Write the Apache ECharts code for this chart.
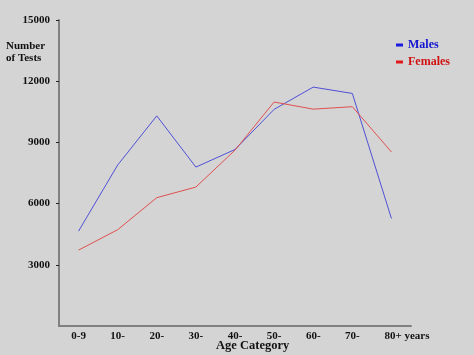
<!DOCTYPE html>
<html>
<head>
<meta charset="utf-8">
<script src="https://cdn.jsdelivr.net/npm/echarts@6/dist/echarts.min.js"></script>
<style>
  html, body { margin: 0; padding: 0; background: #d4d4d4; }
  #chart { width: 474px; height: 355px; }
</style>
</head>
<body>
<div id="chart"></div>
<script>
const ageCategories = ["0-9", "10-", "20-", "30-", "40-", "50-", "60-", "70-", "80+ years"];
const males = [4650, 7890, 10300, 7790, 8650, 10620, 11710, 11400, 5270];
const females = [3720, 4720, 6290, 6810, 8620, 10980, 10630, 10750, 8530];
const yTicks = [3000, 6000, 9000, 12000, 15000];

const font = "Liberation Serif";
const chart = echarts.init(document.getElementById("chart"));

const option = {
    backgroundColor: "#d4d4d4",
    animation: false,
    grid: { left: 59, right: 63, top: 20, bottom: 29 },
    legend: {
        orient: "vertical",
        left: 391,
        top: 34,
        itemWidth: 7,
        itemHeight: 3,
        itemGap: 5,
        icon: "rect",
        textStyle: { fontFamily: font, fontWeight: "bold", fontSize: 12 },
        data: [
            { name: "Males", itemStyle: { color: "#1a1ae0" }, textStyle: { color: "#1212d0" } },
            { name: "Females", itemStyle: { color: "#e01a1a" }, textStyle: { color: "#d01212" } }
        ]
    },
    xAxis: {
        type: "category",
        data: ageCategories.map((c, i) => i === ageCategories.length - 1
            ? { value: c, textStyle: { align: "left", padding: [0, 0, 0, -7] } }
            : c),
        boundaryGap: true,
        axisLine: { lineStyle: { color: "#808080", width: 2 } },
        axisTick: { show: false },
        axisLabel: {
            interval: 0, margin: 5, color: "#111", fontFamily: font, fontWeight: "bold", fontSize: 11
        }
    },
    yAxis: {
        type: "value",
        min: 0,
        max: 15000,
        interval: 3000,
        splitLine: { show: false },
        axisLine: { show: true, lineStyle: { color: "#808080", width: 2 } },
        axisTick: { show: true, length: 3, customValues: yTicks, lineStyle: { color: "#222", width: 1 } },
        axisLabel: {
            margin: 9, color: "#111", fontFamily: font, fontWeight: "bold", fontSize: 11,
            customValues: yTicks,
            formatter: v => String(v)
        }
    },
    graphic: [
        {
            type: "text", left: 6, top: 40,
            style: {
                text: "Number\nof Tests", fill: "#111", lineHeight: 12,
                font: "bold 11px 'Liberation Serif'"
            }
        },
        {
            type: "text", left: 216, top: 339,
            style: { text: "Age Category", fill: "#111", font: "bold 12.5px 'Liberation Serif'" }
        }
    ],
    series: [
        {
            name: "Males", type: "line", data: males, symbol: "none",
            lineStyle: { color: "#5050d8", width: 1 }, itemStyle: { color: "#1a1ae0" }
        },
        {
            name: "Females", type: "line", data: females, symbol: "none",
            lineStyle: { color: "#e05050", width: 1 }, itemStyle: { color: "#e01a1a" }
        }
    ]
};

chart.setOption(option);
</script>
</body>
</html>
